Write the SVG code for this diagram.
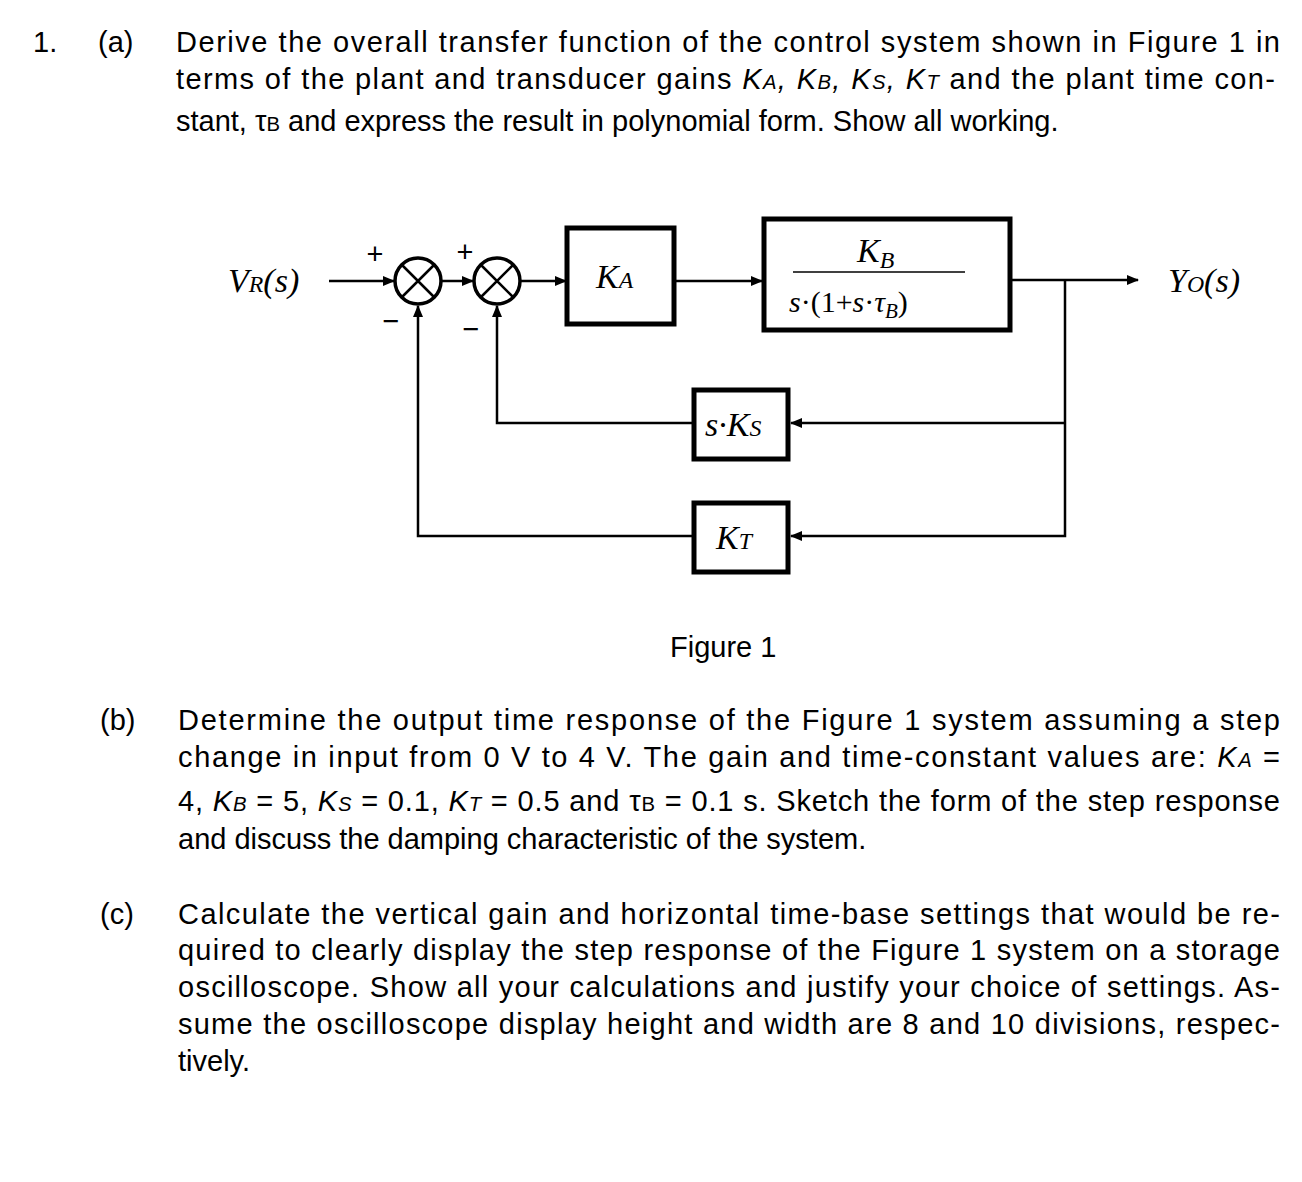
<svg xmlns="http://www.w3.org/2000/svg" width="1302" height="1182" viewBox="0 0 1302 1182">
<style>
.t{font-family:"Liberation Sans",Arial,sans-serif;font-size:29px;fill:#000}
.m{font-family:"Liberation Serif","Times New Roman",serif;font-style:italic;font-size:34px;fill:#000}
.b{fill:#fff;stroke:#000;stroke-width:5}
.l{fill:none;stroke:#000;stroke-width:2.5}
.s{font-size:70%}
</style>
<defs><marker id="a" markerWidth="12" markerHeight="10" refX="11" refY="5" orient="auto" markerUnits="userSpaceOnUse"><path d="M0,0L12,5L0,10z" fill="#000"/></marker></defs>
<g class="t">
<text x="33" y="52">1.</text>
<text x="98" y="52">(a)</text>
<text x="176" y="52" textLength="1104" lengthAdjust="spacing">Derive the overall transfer function of the control system shown in Figure 1 in</text>
<text x="176" y="89" textLength="1099" lengthAdjust="spacing">terms of the plant and transducer gains <tspan font-style="italic">K<tspan class="s">A</tspan>, K<tspan class="s">B</tspan>, K<tspan class="s">S</tspan>, K<tspan class="s">T</tspan></tspan> and the plant time con-</text>
<text x="176" y="131">stant, τ<tspan class="s">B</tspan> and express the result in polynomial form. Show all working.</text>
<text x="670" y="657">Figure 1</text>
<text x="100" y="730">(b)</text>
<text x="178" y="730" textLength="1102" lengthAdjust="spacing">Determine the output time response of the Figure 1 system assuming a step</text>
<text x="178" y="767" textLength="1102" lengthAdjust="spacing">change in input from 0 V to 4 V. The gain and time-constant values are: <tspan font-style="italic">K<tspan class="s">A</tspan></tspan> =</text>
<text x="178" y="811" textLength="1102" lengthAdjust="spacing">4, <tspan font-style="italic">K<tspan class="s">B</tspan></tspan> = 5, <tspan font-style="italic">K<tspan class="s">S</tspan></tspan> = 0.1, <tspan font-style="italic">K<tspan class="s">T</tspan></tspan> = 0.5 and τ<tspan class="s">B</tspan> = 0.1 s. Sketch the form of the step response</text>
<text x="178" y="849">and discuss the damping characteristic of the system.</text>
<text x="100" y="924">(c)</text>
<text x="178" y="924" textLength="1102" lengthAdjust="spacing">Calculate the vertical gain and horizontal time-base settings that would be re-</text>
<text x="178" y="960" textLength="1102" lengthAdjust="spacing">quired to clearly display the step response of the Figure 1 system on a storage</text>
<text x="178" y="997" textLength="1102" lengthAdjust="spacing">oscilloscope. Show all your calculations and justify your choice of settings. As-</text>
<text x="178" y="1034" textLength="1102" lengthAdjust="spacing">sume the oscilloscope display height and width are 8 and 10 divisions, respec-</text>
<text x="178" y="1071">tively.</text>
</g>
<g id="connectors" class="l">
<line x1="329" y1="281" x2="394" y2="281" marker-end="url(#a)"/>
<line x1="442" y1="281" x2="473" y2="281" marker-end="url(#a)"/>
<line x1="521" y1="281" x2="566" y2="281" marker-end="url(#a)"/>
<line x1="675" y1="281" x2="762" y2="281" marker-end="url(#a)"/>
<line x1="1011" y1="280" x2="1138" y2="280" marker-end="url(#a)"/>
<polyline points="1065,280 1065,536 791,536" marker-end="url(#a)"/>
<line x1="1065" y1="423" x2="791" y2="423" marker-end="url(#a)"/>
<polyline points="693,423 497,423 497,306" marker-end="url(#a)"/>
<polyline points="693,536 418,536 418,306" marker-end="url(#a)"/>
</g>
<g id="sum1"><circle cx="418" cy="281" r="23" fill="#fff" stroke="#000" stroke-width="3.5"/><path d="M402,265L434,297M434,265L402,297" class="l" stroke-width="2"/>
<text x="375" y="264" class="t" font-size="26" text-anchor="middle">+</text><text x="391" y="331" class="t" font-size="30" text-anchor="middle">−</text></g>
<g id="sum2"><circle cx="497" cy="281" r="23" fill="#fff" stroke="#000" stroke-width="3.5"/><path d="M481,265L513,297M513,265L481,297" class="l" stroke-width="2"/>
<text x="465" y="262" class="t" font-size="26" text-anchor="middle">+</text><text x="471" y="339" class="t" font-size="30" text-anchor="middle">−</text></g>
<text x="228" y="292" class="m">V<tspan class="s">R</tspan>(s)</text>
<text x="1168" y="292" class="m">Y<tspan class="s">O</tspan>(s)</text>
<g id="KA"><rect x="567" y="228" width="107" height="96" class="b"/><text x="596" y="288" class="m">K<tspan class="s">A</tspan></text></g>
<g id="plant"><rect x="764" y="219" width="246" height="111" class="b"/>
<text x="857" y="262" class="m" font-size="30">K<tspan class="s" dy="6">B</tspan></text>
<line x1="793" y1="272" x2="965" y2="272" stroke="#000" stroke-width="1.5"/>
<text x="789" y="312" font-family="Liberation Serif,serif" font-size="30"><tspan font-style="italic">s</tspan>·(1+<tspan font-style="italic">s</tspan>·<tspan font-style="italic">τ</tspan><tspan font-style="italic" class="s" dy="6">B</tspan><tspan dy="-6">)</tspan></text></g>
<g id="sKs"><rect x="694" y="390" width="94" height="69" class="b"/><text x="705" y="436" class="m" font-size="30">s·K<tspan class="s">S</tspan></text></g>
<g id="KT"><rect x="694" y="503" width="94" height="69" class="b"/><text x="716" y="549" class="m" font-size="30">K<tspan class="s">T</tspan></text></g>
</svg>
